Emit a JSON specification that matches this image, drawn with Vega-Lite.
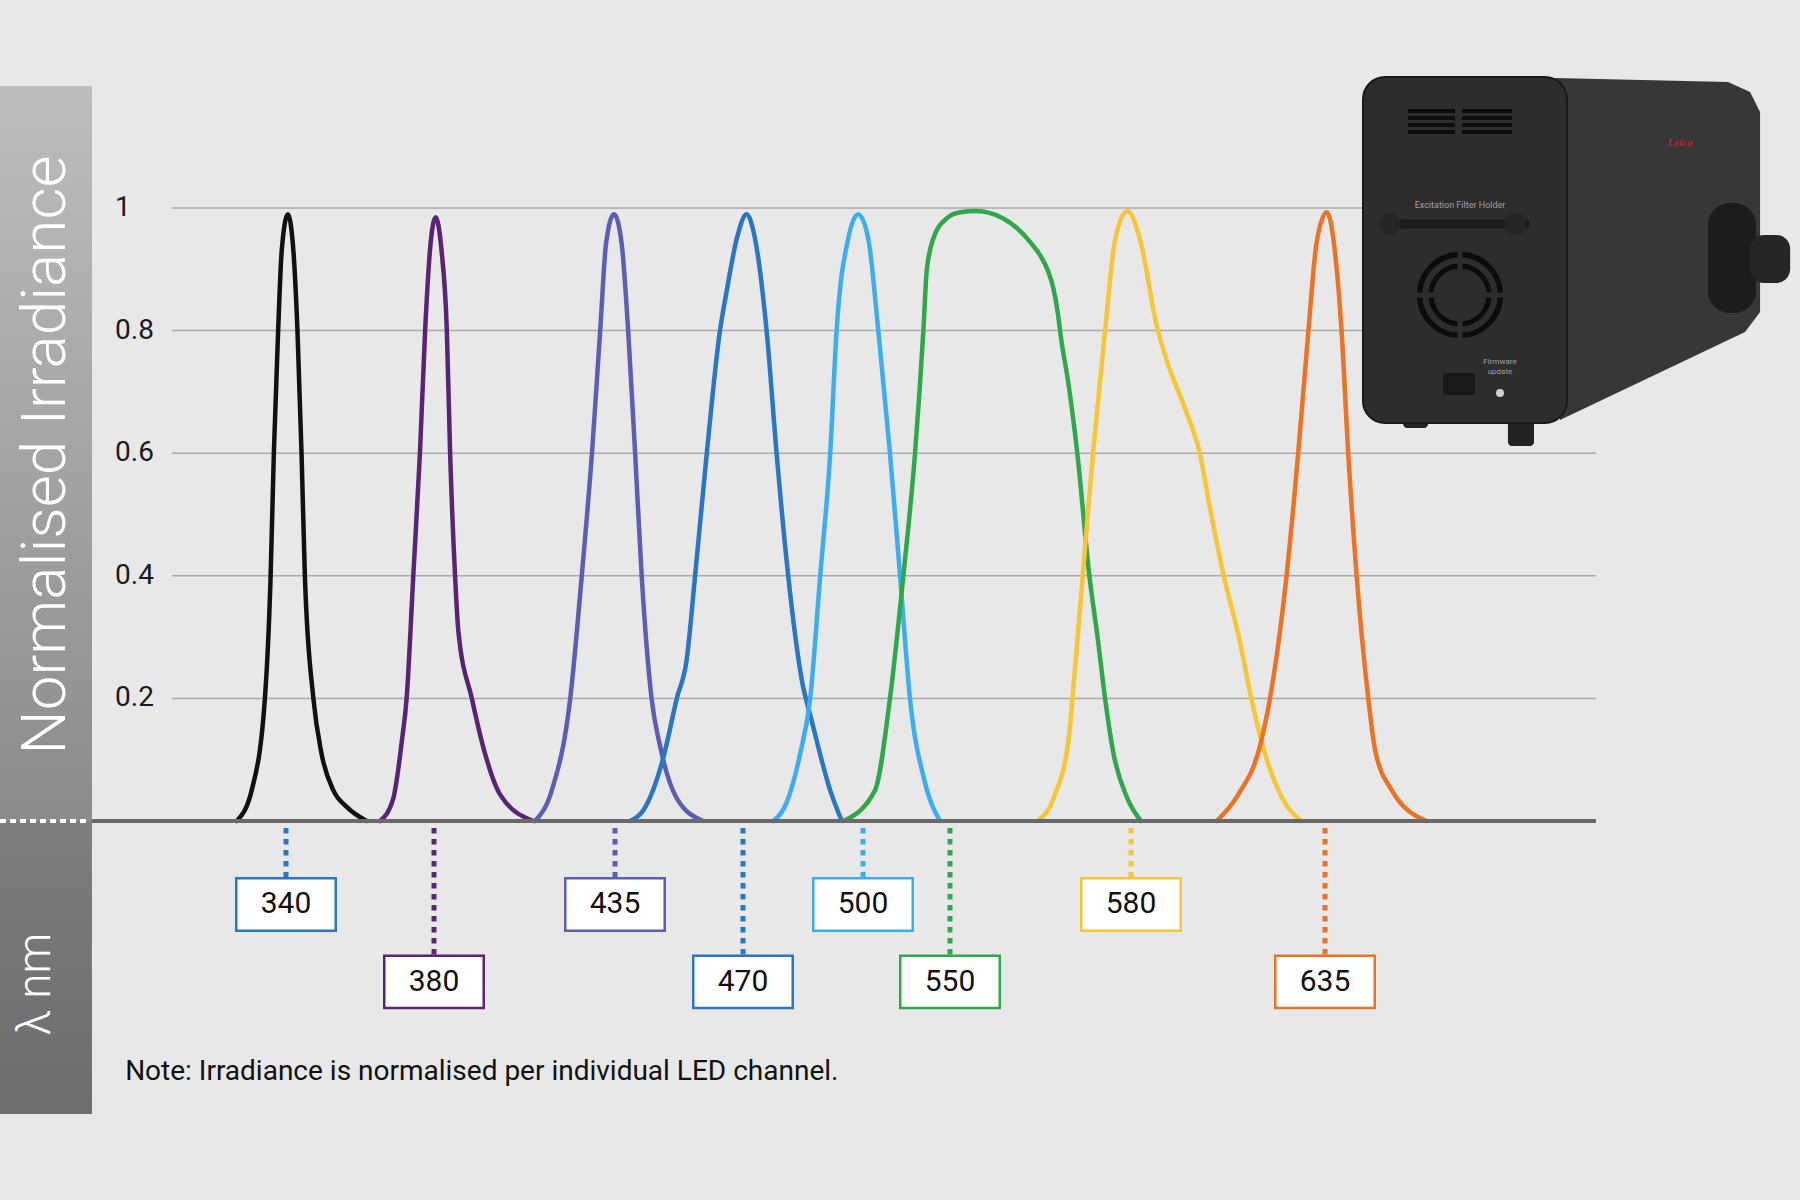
{
  "$schema": "https://vega.github.io/schema/vega-lite/v6.json",
  "width": 1800,
  "height": 1200,
  "autosize": {"type": "none"},
  "padding": 0,
  "background": "#e8e8e8",
  "config": {"view": {"stroke": null}},
  "datasets": {
    "curves": [
      {"led":340,"nm":326.2,"v":0},{"led":340,"nm":330.4,"v":0.05},{"led":340,"nm":334.1,"v":0.2},{"led":340,"nm":335.7,"v":0.4},{"led":340,"nm":336.6,"v":0.6},{"led":340,"nm":337.8,"v":0.8},{"led":340,"nm":338.8,"v":0.93},{"led":340,"nm":340.5,"v":0.99},{"led":340,"nm":342.0,"v":0.93},{"led":340,"nm":343.1,"v":0.8},{"led":340,"nm":344.2,"v":0.6},{"led":340,"nm":345.1,"v":0.4},{"led":340,"nm":347.4,"v":0.2},{"led":340,"nm":349.6,"v":0.11},{"led":340,"nm":352.8,"v":0.05},{"led":340,"nm":356.4,"v":0.023},{"led":340,"nm":361.8,"v":0},
      {"led":380,"nm":365.4,"v":0},{"led":380,"nm":369.0,"v":0.037},{"led":380,"nm":371.3,"v":0.13},{"led":380,"nm":372.6,"v":0.2},{"led":380,"nm":374.4,"v":0.4},{"led":380,"nm":376.2,"v":0.6},{"led":380,"nm":377.6,"v":0.8},{"led":380,"nm":378.9,"v":0.93},{"led":380,"nm":380.5,"v":0.985},{"led":380,"nm":382.3,"v":0.93},{"led":380,"nm":383.9,"v":0.8},{"led":380,"nm":384.9,"v":0.6},{"led":380,"nm":386.4,"v":0.4},{"led":380,"nm":387.4,"v":0.31},{"led":380,"nm":391.5,"v":0.2},{"led":380,"nm":395.5,"v":0.11},{"led":380,"nm":400.1,"v":0.043},{"led":380,"nm":410.2,"v":0},
      {"led":435,"nm":410.7,"v":0},{"led":435,"nm":415.8,"v":0.05},{"led":435,"nm":421.4,"v":0.2},{"led":435,"nm":424.9,"v":0.4},{"led":435,"nm":428.0,"v":0.6},{"led":435,"nm":430.5,"v":0.8},{"led":435,"nm":432.3,"v":0.943},{"led":435,"nm":434.7,"v":0.99},{"led":435,"nm":436.8,"v":0.943},{"led":435,"nm":438.6,"v":0.8},{"led":435,"nm":440.5,"v":0.6},{"led":435,"nm":442.3,"v":0.4},{"led":435,"nm":445.0,"v":0.2},{"led":435,"nm":447.3,"v":0.123},{"led":435,"nm":451.9,"v":0.037},{"led":435,"nm":459.1,"v":0},
      {"led":470,"nm":439.1,"v":0},{"led":470,"nm":442.7,"v":0.017},{"led":470,"nm":448.2,"v":0.103},{"led":470,"nm":451.9,"v":0.2},{"led":470,"nm":454.6,"v":0.263},{"led":470,"nm":456.9,"v":0.4},{"led":470,"nm":460.1,"v":0.6},{"led":470,"nm":463.7,"v":0.8},{"led":470,"nm":465.5,"v":0.863},{"led":470,"nm":468.3,"v":0.95},{"led":470,"nm":470.9,"v":0.99},{"led":470,"nm":473.0,"v":0.95},{"led":470,"nm":475.9,"v":0.8},{"led":470,"nm":478.4,"v":0.6},{"led":470,"nm":481.3,"v":0.4},{"led":470,"nm":484.7,"v":0.23},{"led":470,"nm":487.2,"v":0.163},{"led":470,"nm":491.8,"v":0.05},{"led":470,"nm":494.7,"v":0},
      {"led":500,"nm":477.6,"v":0},{"led":500,"nm":480.9,"v":0.03},{"led":500,"nm":484.3,"v":0.11},{"led":500,"nm":486.8,"v":0.2},{"led":500,"nm":489.3,"v":0.4},{"led":500,"nm":491.8,"v":0.6},{"led":500,"nm":493.4,"v":0.8},{"led":500,"nm":496.3,"v":0.95},{"led":500,"nm":498.8,"v":0.99},{"led":500,"nm":503.0,"v":0.95},{"led":500,"nm":508.8,"v":0.8},{"led":500,"nm":515.5,"v":0.6},{"led":500,"nm":521.3,"v":0.4},{"led":500,"nm":527.0,"v":0.2},{"led":500,"nm":535.6,"v":0.063},{"led":500,"nm":544.3,"v":0},
      {"led":550,"nm":495.1,"v":0},{"led":550,"nm":506.9,"v":0.05},{"led":550,"nm":515.5,"v":0.2},{"led":550,"nm":523.2,"v":0.4},{"led":550,"nm":529.9,"v":0.6},{"led":550,"nm":534.7,"v":0.8},{"led":550,"nm":536.6,"v":0.897},{"led":550,"nm":540.4,"v":0.95},{"led":550,"nm":548.1,"v":0.983},{"led":550,"nm":551.7,"v":0.993},{"led":550,"nm":554.3,"v":0.995},{"led":550,"nm":558.83,"v":0.983},{"led":550,"nm":561.12,"v":0.967},{"led":550,"nm":563.41,"v":0.943},{"led":550,"nm":565.12,"v":0.92},{"led":550,"nm":566.26,"v":0.897},{"led":550,"nm":567.11,"v":0.87},{"led":550,"nm":567.85,"v":0.83},{"led":550,"nm":568.37,"v":0.79},{"led":550,"nm":569.68,"v":0.71},{"led":550,"nm":571.1,"v":0.6},{"led":550,"nm":573.1,"v":0.4},{"led":550,"nm":574.5,"v":0.297},{"led":550,"nm":575.7,"v":0.2},{"led":550,"nm":577.1,"v":0.11},{"led":550,"nm":579.4,"v":0.037},{"led":550,"nm":582.8,"v":0},
      {"led":580,"nm":564.5,"v":0},{"led":580,"nm":567.4,"v":0.043},{"led":580,"nm":569.7,"v":0.137},{"led":580,"nm":570.3,"v":0.2},{"led":580,"nm":572.0,"v":0.4},{"led":580,"nm":573.7,"v":0.6},{"led":580,"nm":575.7,"v":0.8},{"led":580,"nm":577.4,"v":0.95},{"led":580,"nm":579.4,"v":0.995},{"led":580,"nm":582.8,"v":0.943},{"led":580,"nm":587.2,"v":0.81},{"led":580,"nm":590.2,"v":0.75},{"led":580,"nm":595.5,"v":0.67},{"led":580,"nm":599.5,"v":0.6},{"led":580,"nm":602.4,"v":0.51},{"led":580,"nm":606.3,"v":0.4},{"led":580,"nm":610.7,"v":0.297},{"led":580,"nm":614.1,"v":0.2},{"led":580,"nm":618.0,"v":0.11},{"led":580,"nm":622.9,"v":0.037},{"led":580,"nm":628.3,"v":0},
      {"led":635,"nm":604.3,"v":0},{"led":635,"nm":610.4,"v":0.043},{"led":635,"nm":616.6,"v":0.123},{"led":635,"nm":619.4,"v":0.2},{"led":635,"nm":624.1,"v":0.4},{"led":635,"nm":627.4,"v":0.6},{"led":635,"nm":630.3,"v":0.8},{"led":635,"nm":632.6,"v":0.943},{"led":635,"nm":635.5,"v":0.993},{"led":635,"nm":637.8,"v":0.93},{"led":635,"nm":639.7,"v":0.8},{"led":635,"nm":641.6,"v":0.6},{"led":635,"nm":644.0,"v":0.4},{"led":635,"nm":647.3,"v":0.2},{"led":635,"nm":649.2,"v":0.117},{"led":635,"nm":654.0,"v":0.05},{"led":635,"nm":663.9,"v":0}
    ],
    "labels": [
      {"led":340,"tier":1},{"led":380,"tier":2},{"led":435,"tier":1},{"led":470,"tier":2},
      {"led":500,"tier":1},{"led":550,"tier":2},{"led":580,"tier":1},{"led":635,"tier":2}
    ],
    "ticks": [
      {"v":1,"t":"1"},{"v":0.8,"t":"0.8"},{"v":0.6,"t":"0.6"},{"v":0.4,"t":"0.4"},{"v":0.2,"t":"0.2"}
    ],
    "one": [{}]
  },
  "layer": [
    {
      "data": {"name": "one"},
      "mark": {"type": "rect", "fill": {"gradient": "linear", "x1": 0, "y1": 0, "x2": 0, "y2": 1, "stops": [{"offset": 0, "color": "#bdbdbd"}, {"offset": 1, "color": "#8b8b8b"}]}},
      "encoding": {
        "x": {"datum": 260, "type": "quantitative", "scale": {"type":"linear","domain":[260,340,380,435,470,500,550,580,635,770],"range":[0,286,434,615,743,863,950,1131,1325,1800],"nice":false,"zero":false}, "axis": null},
        "x2": {"datum": 285.73},
        "y": {"datum": 1.199, "type": "quantitative", "scale": {"type":"linear","domain":[0,1],"range":[821,208],"nice":false,"zero":false}, "axis": null},
        "y2": {"datum": 0}
      }
    },
    {
      "data": {"name": "one"},
      "mark": {"type": "rect", "fill": {"gradient": "linear", "x1": 0, "y1": 0, "x2": 0, "y2": 1, "stops": [{"offset": 0, "color": "#7d7d7d"}, {"offset": 1, "color": "#6d6d6d"}]}},
      "encoding": {
        "x": {"datum": 260, "type": "quantitative", "scale": {"type":"linear","domain":[260,340,380,435,470,500,550,580,635,770],"range":[0,286,434,615,743,863,950,1131,1325,1800],"nice":false,"zero":false}, "axis": null},
        "x2": {"datum": 285.73},
        "y": {"datum": 0, "type": "quantitative", "scale": {"type":"linear","domain":[0,1],"range":[821,208],"nice":false,"zero":false}, "axis": null},
        "y2": {"datum": -0.478}
      }
    },
    {
      "data": {"name": "one"},
      "mark": {"type": "rule", "color": "#ffffff", "strokeWidth": 4, "strokeDash": [6, 4]},
      "encoding": {
        "x": {"datum": 260, "type": "quantitative", "scale": {"type":"linear","domain":[260,340,380,435,470,500,550,580,635,770],"range":[0,286,434,615,743,863,950,1131,1325,1800],"nice":false,"zero":false}, "axis": null},
        "x2": {"datum": 284.6},
        "y": {"datum": 0, "type": "quantitative", "scale": {"type":"linear","domain":[0,1],"range":[821,208],"nice":false,"zero":false}, "axis": null}
      }
    },
    {
      "data": {"name": "ticks"},
      "mark": {"type": "rule", "color": "#a9a9a9", "strokeWidth": 1.5},
      "encoding": {
        "x": {"datum": 308.1, "type": "quantitative", "scale": {"type":"linear","domain":[260,340,380,435,470,500,550,580,635,770],"range":[0,286,434,615,743,863,950,1131,1325,1800],"nice":false,"zero":false}, "axis": null},
        "x2": {"datum": 712.0},
        "y": {"field": "v", "type": "quantitative", "scale": {"type":"linear","domain":[0,1],"range":[821,208],"nice":false,"zero":false}, "axis": null}
      }
    },
    {
      "data": {"name": "curves"},
      "mark": {"type": "line", "interpolate": "monotone", "strokeWidth": 4.5, "strokeCap": "round", "strokeJoin": "round"},
      "encoding": {
        "x": {"field": "nm", "type": "quantitative", "scale": {"type":"linear","domain":[260,340,380,435,470,500,550,580,635,770],"range":[0,286,434,615,743,863,950,1131,1325,1800],"nice":false,"zero":false}, "axis": null},
        "y": {"field": "v", "type": "quantitative", "scale": {"type":"linear","domain":[0,1],"range":[821,208],"nice":false,"zero":false}, "axis": null},
        "color": {"field": "led", "type": "nominal", "scale": {"domain": [340,380,435,470,500,550,580,635], "range": ["#111111","#5b2373","#5b5eb3","#2a76c2","#3caef0","#2fa84b","#f8c535","#ec7224"]}, "legend": null}
      }
    },
    {
      "data": {"name": "one"},
      "mark": {"type": "rule", "color": "#696969", "strokeWidth": 4},
      "encoding": {
        "x": {"datum": 285.73, "type": "quantitative", "scale": {"type":"linear","domain":[260,340,380,435,470,500,550,580,635,770],"range":[0,286,434,615,743,863,950,1131,1325,1800],"nice":false,"zero":false}, "axis": null},
        "x2": {"datum": 712.0},
        "y": {"datum": 0, "type": "quantitative", "scale": {"type":"linear","domain":[0,1],"range":[821,208],"nice":false,"zero":false}, "axis": null}
      }
    },
    {
      "data": {"name": "labels"},
      "transform": [{"filter": "datum.tier == 1"}],
      "mark": {"type": "rule", "strokeWidth": 5, "strokeDash": [5.5, 5.5]},
      "encoding": {
        "x": {"field": "led", "type": "quantitative", "scale": {"type":"linear","domain":[260,340,380,435,470,500,550,580,635,770],"range":[0,286,434,615,743,863,950,1131,1325,1800],"nice":false,"zero":false}, "axis": null},
        "y": {"datum": -0.0114, "type": "quantitative", "scale": {"type":"linear","domain":[0,1],"range":[821,208],"nice":false,"zero":false}, "axis": null},
        "y2": {"datum": -0.093},
        "stroke": {"field": "led", "type": "nominal", "scale": {"domain": [340,380,435,470,500,550,580,635], "range": ["#2a76c2","#5b2373","#5b5eb3","#2a76c2","#3caef0","#2fa84b","#f8c535","#ec7224"]}, "legend": null}
      }
    },
    {
      "data": {"name": "labels"},
      "transform": [{"filter": "datum.tier == 2"}],
      "mark": {"type": "rule", "strokeWidth": 5, "strokeDash": [5.5, 5.5]},
      "encoding": {
        "x": {"field": "led", "type": "quantitative", "scale": {"type":"linear","domain":[260,340,380,435,470,500,550,580,635,770],"range":[0,286,434,615,743,863,950,1131,1325,1800],"nice":false,"zero":false}, "axis": null},
        "y": {"datum": -0.0114, "type": "quantitative", "scale": {"type":"linear","domain":[0,1],"range":[821,208],"nice":false,"zero":false}, "axis": null},
        "y2": {"datum": -0.2202},
        "stroke": {"field": "led", "type": "nominal", "scale": {"domain": [340,380,435,470,500,550,580,635], "range": ["#2a76c2","#5b2373","#5b5eb3","#2a76c2","#3caef0","#2fa84b","#f8c535","#ec7224"]}, "legend": null}
      }
    },
    {
      "data": {"name": "labels"},
      "transform": [{"filter": "datum.tier == 1"}],
      "mark": {"type": "point", "shape": "M-1,-0.5256L1,-0.5256L1,0.5256L-1,0.5256Z", "size": 9900, "fill": "#ffffff", "filled": false, "strokeWidth": 2.5, "opacity": 1, "fillOpacity": 1, "strokeOpacity": 1},
      "encoding": {
        "x": {"field": "led", "type": "quantitative", "scale": {"type":"linear","domain":[260,340,380,435,470,500,550,580,635,770],"range":[0,286,434,615,743,863,950,1131,1325,1800],"nice":false,"zero":false}, "axis": null},
        "y": {"datum": -0.1362, "type": "quantitative", "scale": {"type":"linear","domain":[0,1],"range":[821,208],"nice":false,"zero":false}, "axis": null},
        "stroke": {"field": "led", "type": "nominal", "scale": {"domain": [340,380,435,470,500,550,580,635], "range": ["#2a76c2","#5b2373","#5b5eb3","#2a76c2","#3caef0","#2fa84b","#f8c535","#ec7224"]}, "legend": null}
      }
    },
    {
      "data": {"name": "labels"},
      "transform": [{"filter": "datum.tier == 2"}],
      "mark": {"type": "point", "shape": "M-1,-0.5256L1,-0.5256L1,0.5256L-1,0.5256Z", "size": 9900, "fill": "#ffffff", "filled": false, "strokeWidth": 2.5, "opacity": 1, "fillOpacity": 1, "strokeOpacity": 1},
      "encoding": {
        "x": {"field": "led", "type": "quantitative", "scale": {"type":"linear","domain":[260,340,380,435,470,500,550,580,635,770],"range":[0,286,434,615,743,863,950,1131,1325,1800],"nice":false,"zero":false}, "axis": null},
        "y": {"datum": -0.2626, "type": "quantitative", "scale": {"type":"linear","domain":[0,1],"range":[821,208],"nice":false,"zero":false}, "axis": null},
        "stroke": {"field": "led", "type": "nominal", "scale": {"domain": [340,380,435,470,500,550,580,635], "range": ["#2a76c2","#5b2373","#5b5eb3","#2a76c2","#3caef0","#2fa84b","#f8c535","#ec7224"]}, "legend": null}
      }
    },
    {
      "data": {"name": "labels"},
      "transform": [{"filter": "datum.tier == 1"}],
      "mark": {"type": "text", "font": "Roboto", "fontSize": 30, "color": "#111111", "align": "center", "baseline": "middle"},
      "encoding": {
        "x": {"field": "led", "type": "quantitative", "scale": {"type":"linear","domain":[260,340,380,435,470,500,550,580,635,770],"range":[0,286,434,615,743,863,950,1131,1325,1800],"nice":false,"zero":false}, "axis": null},
        "y": {"datum": -0.1362, "type": "quantitative", "scale": {"type":"linear","domain":[0,1],"range":[821,208],"nice":false,"zero":false}, "axis": null},
        "text": {"field": "led", "type": "nominal"}
      }
    },
    {
      "data": {"name": "labels"},
      "transform": [{"filter": "datum.tier == 2"}],
      "mark": {"type": "text", "font": "Roboto", "fontSize": 30, "color": "#111111", "align": "center", "baseline": "middle"},
      "encoding": {
        "x": {"field": "led", "type": "quantitative", "scale": {"type":"linear","domain":[260,340,380,435,470,500,550,580,635,770],"range":[0,286,434,615,743,863,950,1131,1325,1800],"nice":false,"zero":false}, "axis": null},
        "y": {"datum": -0.2626, "type": "quantitative", "scale": {"type":"linear","domain":[0,1],"range":[821,208],"nice":false,"zero":false}, "axis": null},
        "text": {"field": "led", "type": "nominal"}
      }
    },
    {
      "data": {"name": "ticks"},
      "mark": {"type": "text", "font": "Roboto", "fontSize": 28, "color": "#1a1a1a", "align": "left", "baseline": "middle"},
      "encoding": {
        "x": {"datum": 292.2, "type": "quantitative", "scale": {"type":"linear","domain":[260,340,380,435,470,500,550,580,635,770],"range":[0,286,434,615,743,863,950,1131,1325,1800],"nice":false,"zero":false}, "axis": null},
        "y": {"field": "v", "type": "quantitative", "scale": {"type":"linear","domain":[0,1],"range":[821,208],"nice":false,"zero":false}, "axis": null},
        "text": {"field": "t", "type": "nominal"}
      }
    },
    {
      "data": {"name": "one"},
      "mark": {"type": "text", "text": "Normalised Irradiance", "angle": 270, "font": "Roboto", "fontWeight": 300, "fontSize": 62, "color": "#ffffff", "align": "center", "baseline": "alphabetic"},
      "encoding": {
        "x": {"datum": 278.2, "type": "quantitative", "scale": {"type":"linear","domain":[260,340,380,435,470,500,550,580,635,770],"range":[0,286,434,615,743,863,950,1131,1325,1800],"nice":false,"zero":false}, "axis": null},
        "y": {"datum": 0.5971, "type": "quantitative", "scale": {"type":"linear","domain":[0,1],"range":[821,208],"nice":false,"zero":false}, "axis": null}
      }
    },
    {
      "data": {"name": "one"},
      "mark": {"type": "text", "text": "λ nm", "angle": 270, "font": "Roboto", "fontWeight": 300, "fontSize": 46, "color": "#ffffff", "align": "center", "baseline": "alphabetic"},
      "encoding": {
        "x": {"datum": 274.0, "type": "quantitative", "scale": {"type":"linear","domain":[260,340,380,435,470,500,550,580,635,770],"range":[0,286,434,615,743,863,950,1131,1325,1800],"nice":false,"zero":false}, "axis": null},
        "y": {"datum": -0.2659, "type": "quantitative", "scale": {"type":"linear","domain":[0,1],"range":[821,208],"nice":false,"zero":false}, "axis": null}
      }
    },
    {
      "data": {"name": "one"},
      "mark": {"type": "text", "text": "Note: Irradiance is normalised per individual LED channel.", "font": "Roboto", "fontSize": 28, "color": "#111111", "align": "left", "baseline": "alphabetic"},
      "encoding": {
        "x": {"datum": 295.0, "type": "quantitative", "scale": {"type":"linear","domain":[260,340,380,435,470,500,550,580,635,770],"range":[0,286,434,615,743,863,950,1131,1325,1800],"nice":false,"zero":false}, "axis": null},
        "y": {"datum": -0.4225, "type": "quantitative", "scale": {"type":"linear","domain":[0,1],"range":[821,208],"nice":false,"zero":false}, "axis": null}
      }
    },
    {
      "data": {"name": "one"},
      "mark": {"type": "rect", "fill": "#222222", "cornerRadius": 4},
      "encoding": {
        "x": {"datum": 657.2, "type": "quantitative", "scale": {"type":"linear","domain":[260,340,380,435,470,500,550,580,635,770],"range":[0,286,434,615,743,863,950,1131,1325,1800],"nice":false,"zero":false}, "axis": null},
        "x2": {"datum": 664.3},
        "y": {"datum": 0.6868, "type": "quantitative", "scale": {"type":"linear","domain":[0,1],"range":[821,208],"nice":false,"zero":false}, "axis": null},
        "y2": {"datum": 0.6411}
      }
    },
    {
      "data": {"name": "one"},
      "mark": {"type": "rect", "fill": "#222222", "cornerRadius": 4},
      "encoding": {
        "x": {"datum": 687.0, "type": "quantitative", "scale": {"type":"linear","domain":[260,340,380,435,470,500,550,580,635,770],"range":[0,286,434,615,743,863,950,1131,1325,1800],"nice":false,"zero":false}, "axis": null},
        "x2": {"datum": 694.4},
        "y": {"datum": 0.6542, "type": "quantitative", "scale": {"type":"linear","domain":[0,1],"range":[821,208],"nice":false,"zero":false}, "axis": null},
        "y2": {"datum": 0.6117}
      }
    },
    {
      "data": {"name": "one"},
      "mark": {"type": "point", "shape": "M-0.02,-0.728L0.672,-0.712L0.76,-0.672L0.8,-0.592L0.8,0.208L0.74,0.288L0,0.64Z", "size": 250000, "filled": true, "fill": "#373737", "opacity": 1, "strokeWidth": 0},
      "encoding": {
        "x": {"datum": 701.8, "type": "quantitative", "scale": {"type":"linear","domain":[260,340,380,435,470,500,550,580,635,770],"range":[0,286,434,615,743,863,950,1131,1325,1800],"nice":false,"zero":false}, "axis": null},
        "y": {"datum": 0.9152, "type": "quantitative", "scale": {"type":"linear","domain":[0,1],"range":[821,208],"nice":false,"zero":false}, "axis": null}
      }
    },
    {
      "data": {"name": "one"},
      "mark": {"type": "rect", "fill": "#1c1c1c", "cornerRadius": 22},
      "encoding": {
        "x": {"datum": 743.85, "type": "quantitative", "scale": {"type":"linear","domain":[260,340,380,435,470,500,550,580,635,770],"range":[0,286,434,615,743,863,950,1131,1325,1800],"nice":false,"zero":false}, "axis": null},
        "x2": {"datum": 757.5},
        "y": {"datum": 1.0082, "type": "quantitative", "scale": {"type":"linear","domain":[0,1],"range":[821,208],"nice":false,"zero":false}, "axis": null},
        "y2": {"datum": 0.8287}
      }
    },
    {
      "data": {"name": "one"},
      "mark": {"type": "rect", "fill": "#262626", "cornerRadius": 14},
      "encoding": {
        "x": {"datum": 755.8, "type": "quantitative", "scale": {"type":"linear","domain":[260,340,380,435,470,500,550,580,635,770],"range":[0,286,434,615,743,863,950,1131,1325,1800],"nice":false,"zero":false}, "axis": null},
        "x2": {"datum": 767.2},
        "y": {"datum": 0.956, "type": "quantitative", "scale": {"type":"linear","domain":[0,1],"range":[821,208],"nice":false,"zero":false}, "axis": null},
        "y2": {"datum": 0.8777}
      }
    },
    {
      "data": {"name": "one"},
      "mark": {"type": "rect", "fill": "#2d2d2d", "stroke": "#1a1a1a", "strokeWidth": 2, "cornerRadius": 22},
      "encoding": {
        "x": {"datum": 645.8, "type": "quantitative", "scale": {"type":"linear","domain":[260,340,380,435,470,500,550,580,635,770],"range":[0,286,434,615,743,863,950,1131,1325,1800],"nice":false,"zero":false}, "axis": null},
        "x2": {"datum": 703.78},
        "y": {"datum": 1.2137, "type": "quantitative", "scale": {"type":"linear","domain":[0,1],"range":[821,208],"nice":false,"zero":false}, "axis": null},
        "y2": {"datum": 0.6493}
      }
    },
    {
      "data": {"name": "one"},
      "mark": {"type": "point", "shape": "M-1.04,-0.24H-0.1V-0.16H-1.04ZM-1.04,-0.1H-0.1V-0.02H-1.04ZM-1.04,0.04H-0.1V0.12H-1.04ZM-1.04,0.18H-0.1V0.26H-1.04ZM0.04,-0.24H1.04V-0.16H0.04ZM0.04,-0.1H1.04V-0.02H0.04ZM0.04,0.04H1.04V0.12H0.04ZM0.04,0.18H1.04V0.26H0.04Z", "size": 10000, "filled": true, "fill": "#0d0d0d", "opacity": 1, "strokeWidth": 0},
      "encoding": {
        "x": {"datum": 673.37, "type": "quantitative", "scale": {"type":"linear","domain":[260,340,380,435,470,500,550,580,635,770],"range":[0,286,434,615,743,863,950,1131,1325,1800],"nice":false,"zero":false}, "axis": null},
        "y": {"datum": 1.1419, "type": "quantitative", "scale": {"type":"linear","domain":[0,1],"range":[821,208],"nice":false,"zero":false}, "axis": null}
      }
    },
    {
      "data": {"name": "one"},
      "mark": {"type": "rule", "color": "#1b1b1b", "strokeWidth": 9, "strokeCap": "round"},
      "encoding": {
        "x": {"datum": 652.0, "type": "quantitative", "scale": {"type":"linear","domain":[260,340,380,435,470,500,550,580,635,770],"range":[0,286,434,615,743,863,950,1131,1325,1800],"nice":false,"zero":false}, "axis": null},
        "x2": {"datum": 692.0},
        "y": {"datum": 0.9739, "type": "quantitative", "scale": {"type":"linear","domain":[0,1],"range":[821,208],"nice":false,"zero":false}, "axis": null}
      }
    },
    {
      "data": {"name": "one"},
      "mark": {"type": "point", "shape": "circle", "size": 484, "filled": true, "fill": "#262626", "opacity": 1, "strokeWidth": 0},
      "encoding": {
        "x": {"datum": 653.47, "type": "quantitative", "scale": {"type":"linear","domain":[260,340,380,435,470,500,550,580,635,770],"range":[0,286,434,615,743,863,950,1131,1325,1800],"nice":false,"zero":false}, "axis": null},
        "y": {"datum": 0.9739, "type": "quantitative", "scale": {"type":"linear","domain":[0,1],"range":[821,208],"nice":false,"zero":false}, "axis": null}
      }
    },
    {
      "data": {"name": "one"},
      "mark": {"type": "point", "shape": "circle", "size": 484, "filled": true, "fill": "#262626", "opacity": 1, "strokeWidth": 0},
      "encoding": {
        "x": {"datum": 689.0, "type": "quantitative", "scale": {"type":"linear","domain":[260,340,380,435,470,500,550,580,635,770],"range":[0,286,434,615,743,863,950,1131,1325,1800],"nice":false,"zero":false}, "axis": null},
        "y": {"datum": 0.9739, "type": "quantitative", "scale": {"type":"linear","domain":[0,1],"range":[821,208],"nice":false,"zero":false}, "axis": null}
      }
    },
    {
      "data": {"name": "one"},
      "mark": {"type": "point", "shape": "circle", "size": 6561, "filled": false, "stroke": "#0c0c0c", "strokeWidth": 5.5, "opacity": 1},
      "encoding": {
        "x": {"datum": 673.37, "type": "quantitative", "scale": {"type":"linear","domain":[260,340,380,435,470,500,550,580,635,770],"range":[0,286,434,615,743,863,950,1131,1325,1800],"nice":false,"zero":false}, "axis": null},
        "y": {"datum": 0.8581, "type": "quantitative", "scale": {"type":"linear","domain":[0,1],"range":[821,208],"nice":false,"zero":false}, "axis": null}
      }
    },
    {
      "data": {"name": "one"},
      "mark": {"type": "point", "shape": "circle", "size": 3364, "filled": false, "stroke": "#0c0c0c", "strokeWidth": 5, "opacity": 1},
      "encoding": {
        "x": {"datum": 673.37, "type": "quantitative", "scale": {"type":"linear","domain":[260,340,380,435,470,500,550,580,635,770],"range":[0,286,434,615,743,863,950,1131,1325,1800],"nice":false,"zero":false}, "axis": null},
        "y": {"datum": 0.8581, "type": "quantitative", "scale": {"type":"linear","domain":[0,1],"range":[821,208],"nice":false,"zero":false}, "axis": null}
      }
    },
    {
      "data": {"name": "one"},
      "mark": {"type": "point", "shape": "M-0.96,-0.05H0.96V0.05H-0.96ZM-0.05,-0.96H0.05V0.96H-0.05Z", "size": 10000, "filled": true, "fill": "#2d2d2d", "opacity": 1, "strokeWidth": 0},
      "encoding": {
        "x": {"datum": 673.37, "type": "quantitative", "scale": {"type":"linear","domain":[260,340,380,435,470,500,550,580,635,770],"range":[0,286,434,615,743,863,950,1131,1325,1800],"nice":false,"zero":false}, "axis": null},
        "y": {"datum": 0.8581, "type": "quantitative", "scale": {"type":"linear","domain":[0,1],"range":[821,208],"nice":false,"zero":false}, "axis": null}
      }
    },
    {
      "data": {"name": "one"},
      "mark": {"type": "rect", "fill": "#1a1a1a", "cornerRadius": 2},
      "encoding": {
        "x": {"datum": 668.54, "type": "quantitative", "scale": {"type":"linear","domain":[260,340,380,435,470,500,550,580,635,770],"range":[0,286,434,615,743,863,950,1131,1325,1800],"nice":false,"zero":false}, "axis": null},
        "x2": {"datum": 677.63},
        "y": {"datum": 0.7308, "type": "quantitative", "scale": {"type":"linear","domain":[0,1],"range":[821,208],"nice":false,"zero":false}, "axis": null},
        "y2": {"datum": 0.6949}
      }
    },
    {
      "data": {"name": "one"},
      "mark": {"type": "point", "shape": "circle", "size": 64, "filled": true, "fill": "#d0d0d0", "opacity": 1, "strokeWidth": 0},
      "encoding": {
        "x": {"datum": 684.74, "type": "quantitative", "scale": {"type":"linear","domain":[260,340,380,435,470,500,550,580,635,770],"range":[0,286,434,615,743,863,950,1131,1325,1800],"nice":false,"zero":false}, "axis": null},
        "y": {"datum": 0.6982, "type": "quantitative", "scale": {"type":"linear","domain":[0,1],"range":[821,208],"nice":false,"zero":false}, "axis": null}
      }
    },
    {
      "data": {"name": "one"},
      "mark": {"type": "text", "text": "Excitation Filter Holder", "font": "Roboto", "fontSize": 9, "color": "#a0a0a0", "align": "center", "baseline": "alphabetic"},
      "encoding": {
        "x": {"datum": 673.37, "type": "quantitative", "scale": {"type":"linear","domain":[260,340,380,435,470,500,550,580,635,770],"range":[0,286,434,615,743,863,950,1131,1325,1800],"nice":false,"zero":false}, "axis": null},
        "y": {"datum": 1.0, "type": "quantitative", "scale": {"type":"linear","domain":[0,1],"range":[821,208],"nice":false,"zero":false}, "axis": null}
      }
    },
    {
      "data": {"name": "one"},
      "mark": {"type": "text", "text": ["Firmware", "update"], "font": "Roboto", "fontSize": 8, "lineHeight": 10, "color": "#a0a0a0", "align": "center", "baseline": "alphabetic"},
      "encoding": {
        "x": {"datum": 684.74, "type": "quantitative", "scale": {"type":"linear","domain":[260,340,380,435,470,500,550,580,635,770],"range":[0,286,434,615,743,863,950,1131,1325,1800],"nice":false,"zero":false}, "axis": null},
        "y": {"datum": 0.745, "type": "quantitative", "scale": {"type":"linear","domain":[0,1],"range":[821,208],"nice":false,"zero":false}, "axis": null}
      }
    },
    {
      "data": {"name": "one"},
      "mark": {"type": "text", "text": "Leica", "font": "Liberation Serif, serif", "fontStyle": "italic", "fontWeight": "bold", "fontSize": 11, "color": "#c8202e", "align": "center", "baseline": "middle"},
      "encoding": {
        "x": {"datum": 735.9, "type": "quantitative", "scale": {"type":"linear","domain":[260,340,380,435,470,500,550,580,635,770],"range":[0,286,434,615,743,863,950,1131,1325,1800],"nice":false,"zero":false}, "axis": null},
        "y": {"datum": 1.106, "type": "quantitative", "scale": {"type":"linear","domain":[0,1],"range":[821,208],"nice":false,"zero":false}, "axis": null}
      }
    }
  ]
}
